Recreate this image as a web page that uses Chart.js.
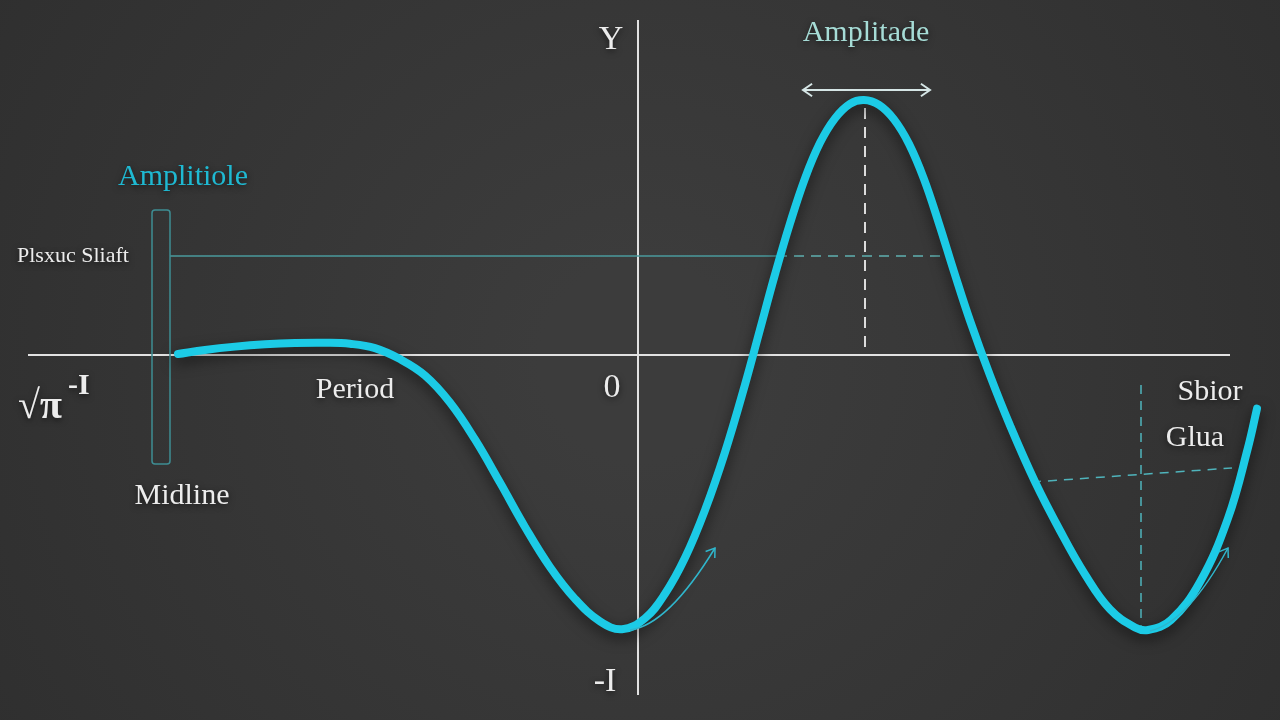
<!DOCTYPE html>
<html>
<head>
<meta charset="utf-8">
<script src="https://cdn.jsdelivr.net/npm/chart.js@4"></script>
<style>
html,body{margin:0;padding:0;background:#383838;overflow:hidden}
#wrap{width:1280px;height:720px}
</style>
</head>
<body>
<div id="wrap"><canvas id="waveChart" width="1280" height="720"></canvas></div>
<script>
// wave samples (x: 1 unit ~ 100px, y: peak = 1)
const waveX = [-4.60, -4.33, -4.03, -3.73, -3.43, -3.13, -2.88, -2.63, -2.38,
  -2.13, -1.88, -1.63, -1.38, -1.13, -0.88, -0.63, -0.38, -0.16,
  0.07, 0.27, 0.47, 0.67, 0.87, 1.07, 1.22, 1.37, 1.52, 1.67, 1.82, 1.97, 2.12, 2.26,
  2.41, 2.56, 2.71, 2.86, 3.01, 3.16, 3.32, 3.52, 3.72, 3.97, 4.22, 4.47, 4.72, 4.97, 5.10,
  5.33, 5.62, 5.90, 6.10, 6.19];
const waveY = [0.004, 0.020, 0.033, 0.042, 0.047, 0.048, 0.044, 0.027, -0.016,
  -0.080, -0.186, -0.331, -0.500, -0.674, -0.831, -0.956, -1.044, -1.075,
  -1.032, -0.936, -0.795, -0.608, -0.381, -0.116, 0.100, 0.316, 0.516, 0.693, 0.832, 0.928, 0.985, 1.0,
  0.981, 0.924, 0.828, 0.690, 0.515, 0.327, 0.135, -0.080, -0.276, -0.497, -0.688, -0.860, -0.997, -1.068, -1.078,
  -1.039, -0.890, -0.640, -0.363, -0.210];

// axis range
const xRange = [-6.38, 6.42];
const yRange = [-1.431, 1.392];

// text on the picture
const axisLabels = ["Y", "0", "-I"];
const noteLabels = ["Amplitade", "Amplitiole", "Plsxuc Sliaft", "Period", "Midline", "Sbior", "Glua"];
const rootLabel = ["\u221A\u03C0", "-I"];

// where the guide lines sit
const guideY = 0.388;
const peakIdx = waveY.indexOf(Math.max(...waveY));
const lastTroughIdx = waveY.indexOf(Math.min(...waveY.slice(32)));

const wavePoints = waveX.map(function (x, i) { return { x: x, y: waveY[i] }; });

const serif = '"Liberation Serif", "DejaVu Serif", serif';

function arrowHead(ctx, x, y, ang, size) {
  ctx.beginPath();
  ctx.moveTo(x - size * Math.cos(ang - 0.6), y - size * Math.sin(ang - 0.6));
  ctx.lineTo(x, y);
  ctx.lineTo(x - size * Math.cos(ang + 0.6), y - size * Math.sin(ang + 0.6));
  ctx.stroke();
}

const decoPlugin = {
  id: 'deco',
  beforeDraw: function (chart) {
    const ctx = chart.ctx;
    const w = chart.width, h = chart.height;
    ctx.save();
    const g = ctx.createRadialGradient(w / 2, h / 2, 100, w / 2, h / 2, 760);
    g.addColorStop(0, '#3c3c3c');
    g.addColorStop(1, '#2f2f2f');
    ctx.fillStyle = g;
    ctx.fillRect(0, 0, w, h);
    ctx.restore();
  },
  beforeDatasetsDraw: function (chart) {
    const ctx = chart.ctx;
    const X = function (v) { return chart.scales.x.getPixelForValue(v); };
    const Y = function (v) { return chart.scales.y.getPixelForValue(v); };
    ctx.save();
    // axes
    ctx.strokeStyle = '#e2e2e2';
    ctx.lineWidth = 2;
    ctx.beginPath();
    ctx.moveTo(28, Y(0)); ctx.lineTo(1230, Y(0));
    ctx.moveTo(X(0), 20); ctx.lineTo(X(0), 695);
    ctx.stroke();

    // teal guide through the wave
    ctx.strokeStyle = '#4a9a9c';
    ctx.lineWidth = 1.5;
    ctx.beginPath();
    ctx.moveTo(170, Y(guideY)); ctx.lineTo(777, Y(guideY));
    ctx.stroke();
    ctx.setLineDash([10, 7]);
    ctx.strokeStyle = '#5fb0b0';
    ctx.beginPath();
    ctx.moveTo(777, Y(guideY)); ctx.lineTo(940, Y(guideY));
    ctx.stroke();

    // dashed drop from the peak
    ctx.strokeStyle = '#dcdcdc';
    ctx.lineWidth = 2;
    ctx.setLineDash([11, 8]);
    ctx.beginPath();
    ctx.moveTo(X(waveX[peakIdx]) + 1, Y(waveY[peakIdx]) + 8);
    ctx.lineTo(X(waveX[peakIdx]) + 1, Y(0) - 3);
    ctx.stroke();

    // dashed lines at the last trough
    ctx.strokeStyle = '#4fb4bc';
    ctx.lineWidth = 1.5;
    ctx.setLineDash([9, 7]);
    ctx.beginPath();
    ctx.moveTo(X(waveX[lastTroughIdx]) - 7, 385);
    ctx.lineTo(X(waveX[lastTroughIdx]) - 7, Y(waveY[lastTroughIdx]) - 2);
    ctx.moveTo(1032, 482); ctx.lineTo(1232, 468);
    ctx.stroke();
    ctx.setLineDash([]);

    // midline bracket
    ctx.strokeStyle = '#3e8d93';
    ctx.lineWidth = 1.5;
    ctx.beginPath();
    ctx.roundRect(152, 210, 18, 254, 3);
    ctx.stroke();

    // amplitude double arrow
    ctx.strokeStyle = '#d6e6e6';
    ctx.lineWidth = 2;
    ctx.beginPath();
    ctx.moveTo(803, 90); ctx.lineTo(930, 90);
    ctx.stroke();
    arrowHead(ctx, 803, 90, Math.PI, 11);
    arrowHead(ctx, 930, 90, 0, 11);
    ctx.restore();

    // soft shadow under the wave
    ctx.save();
    ctx.shadowColor = 'rgba(0,0,0,0.55)';
    ctx.shadowBlur = 14;
    ctx.shadowOffsetY = 5;
  },
  afterDatasetsDraw: function (chart) {
    const ctx = chart.ctx;
    ctx.restore();
    ctx.save();
    // small arrows along the troughs
    ctx.strokeStyle = '#2fb6cc';
    ctx.lineWidth = 1.5;
    ctx.beginPath();
    ctx.moveTo(630, 630); ctx.quadraticCurveTo(668, 625, 715, 548);
    ctx.stroke();
    arrowHead(ctx, 715, 548, -0.95, 10);
    ctx.beginPath();
    ctx.moveTo(1150, 631); ctx.quadraticCurveTo(1188, 622, 1228, 548);
    ctx.stroke();
    arrowHead(ctx, 1228, 548, -1.0, 10);

    ctx.textAlign = 'center';
    ctx.textBaseline = 'middle';
    ctx.shadowColor = 'rgba(0,0,0,0.6)';
    ctx.shadowBlur = 6;
    ctx.shadowOffsetY = 2;
    ctx.fillStyle = '#ececec';
    ctx.font = '34px ' + serif;
    ctx.fillText(axisLabels[0], 611, 40);
    ctx.fillText(axisLabels[1], 612, 388);
    ctx.fillText(axisLabels[2], 605, 682);

    ctx.font = '30px ' + serif;
    ctx.fillStyle = '#a6dcd6';
    ctx.fillText(noteLabels[0], 866, 33);
    ctx.fillStyle = '#1fb9d2';
    ctx.fillText(noteLabels[1], 183, 177);
    ctx.fillStyle = '#ececec';
    ctx.fillText(noteLabels[3], 355, 390);
    ctx.fillText(noteLabels[4], 182, 496);
    ctx.fillText(noteLabels[5], 1210, 392);
    ctx.fillText(noteLabels[6], 1195, 438);

    ctx.font = '22px ' + serif;
    ctx.textAlign = 'left';
    ctx.fillText(noteLabels[2], 17, 256);

    ctx.font = 'bold 40px ' + serif;
    ctx.fillText(rootLabel[0], 18, 408);
    ctx.font = 'bold 30px ' + serif;
    ctx.fillText(rootLabel[1], 68, 386);
    ctx.restore();
  }
};

const myChart = new Chart(document.getElementById('waveChart').getContext('2d'), {
  type: 'scatter',
  data: {
    datasets: [{
      data: wavePoints,
      showLine: true,
      borderColor: '#1ccbe6',
      borderWidth: 8,
      borderCapStyle: 'round',
      borderJoinStyle: 'round',
      pointRadius: 0,
      tension: 0.4,
      fill: false,
      clip: false
    }]
  },
  options: {
    responsive: false,
    devicePixelRatio: 1,
    animation: false,
    layout: { padding: 0 },
    plugins: { legend: { display: false }, tooltip: { enabled: false } },
    scales: {
      x: { type: 'linear', min: xRange[0], max: xRange[1], display: false },
      y: { type: 'linear', min: yRange[0], max: yRange[1], display: false }
    }
  },
  plugins: [decoPlugin]
});
</script>
</body>
</html>
